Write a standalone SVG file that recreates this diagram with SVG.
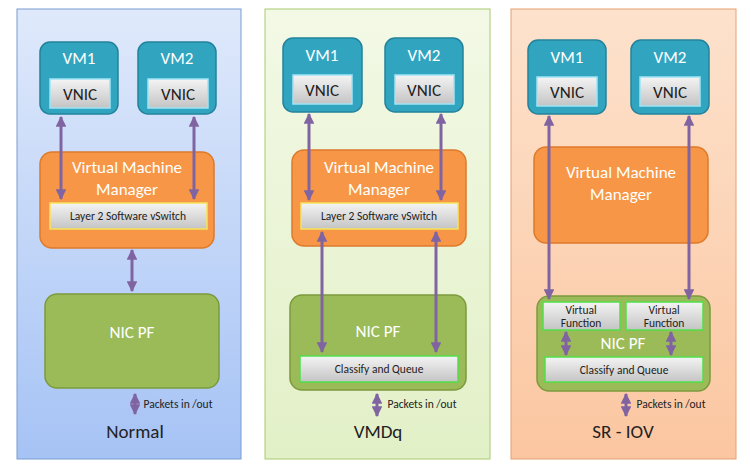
<svg xmlns="http://www.w3.org/2000/svg" width="751" height="473" viewBox="0 0 751 473">
<defs>
<linearGradient id="gb" x1="0" y1="0" x2="0" y2="1"><stop offset="0" stop-color="#dfe9fb"/><stop offset="1" stop-color="#a6c3f5"/></linearGradient>
<linearGradient id="gg" x1="0" y1="0" x2="0" y2="1"><stop offset="0" stop-color="#f3f9e6"/><stop offset="1" stop-color="#e2f0c7"/></linearGradient>
<linearGradient id="go" x1="0" y1="0" x2="0" y2="1"><stop offset="0" stop-color="#fde2cd"/><stop offset="1" stop-color="#fbc6a0"/></linearGradient>
<linearGradient id="gs" x1="0" y1="0" x2="0" y2="1"><stop offset="0" stop-color="#f4f4f4"/><stop offset="1" stop-color="#c4c4c4"/></linearGradient>
<marker id="ah" viewBox="0 0 10 10" refX="9" refY="5" markerWidth="3.6" markerHeight="3.6" orient="auto-start-reverse"><path d="M0,0L10,5L0,10z" fill="#8064a2"/></marker>
</defs>
<style>
.vm{fill:#31a5c0;stroke:#23829b;stroke-width:1.5}
.vnic{fill:url(#gs);stroke:#9ee3f5;stroke-width:1.5}
.vmm{fill:#f79646;stroke:#dd7a2c;stroke-width:1.5}
.vsw{fill:url(#gs);stroke:#f5e35a;stroke-width:1.5}
.nic{fill:#9bbb59;stroke:#7c9a3c;stroke-width:1.5}
.cq{fill:url(#gs);stroke:#52e04a;stroke-width:1.5}
.t{font-family:Carlito,Calibri,"Open Sans",sans-serif;text-anchor:middle}
.w{fill:#fff;font-size:17px}
.k{fill:#222;font-size:17px}
.s{fill:#222;font-size:11.5px}
.c line{stroke:#8064a2;stroke-width:3;marker-start:url(#ah);marker-end:url(#ah)}
</style>
<rect x="17" y="9" width="224" height="450" fill="url(#gb)" stroke="#7b9bd0"/>
<rect x="265" y="9" width="225" height="450" fill="url(#gg)" stroke="#a8cc70"/>
<rect x="511" y="9" width="225" height="450" fill="url(#go)" stroke="#e6a070"/>

<g id="p1-vm1"><rect class="vm" x="40" y="42" width="78" height="72" rx="10"/><text class="t w" x="79" y="64">VM1</text><rect class="vnic" x="50" y="79" width="60" height="29"/><text class="t k" x="80" y="100">VNIC</text></g>
<g id="p1-vm2"><rect class="vm" x="138" y="42" width="78" height="72" rx="10"/><text class="t w" x="177" y="64">VM2</text><rect class="vnic" x="148" y="79" width="60" height="29"/><text class="t k" x="178" y="100">VNIC</text></g>
<g id="p1-vmm"><rect class="vmm" x="40" y="152" width="174" height="96" rx="12"/><text class="t w" x="127" y="173">Virtual Machine</text><text class="t w" x="127" y="195">Manager</text><rect class="vsw" x="50" y="203" width="157" height="26"/><text class="t s" x="128" y="220">Layer 2 Software vSwitch</text></g>
<g id="p1-nic"><rect class="nic" x="45" y="294" width="174" height="94" rx="12"/><text class="t w" x="132" y="338">NIC PF</text></g>

<g id="p2-vm1"><rect class="vm" x="283" y="38" width="79" height="74" rx="10"/><text class="t w" x="322" y="61">VM1</text><rect class="vnic" x="293" y="75" width="59" height="29"/><text class="t k" x="322" y="96">VNIC</text></g>
<g id="p2-vm2"><rect class="vm" x="385" y="38" width="78" height="74" rx="10"/><text class="t w" x="424" y="61">VM2</text><rect class="vnic" x="395" y="75" width="59" height="29"/><text class="t k" x="424" y="96">VNIC</text></g>
<g id="p2-vmm"><rect class="vmm" x="292" y="150" width="174" height="96" rx="12"/><text class="t w" x="379" y="173">Virtual Machine</text><text class="t w" x="379" y="195">Manager</text><rect class="vsw" x="301" y="203" width="157" height="26"/><text class="t s" x="379" y="220">Layer 2 Software vSwitch</text></g>
<g id="p2-nic"><rect class="nic" x="290" y="295" width="176" height="95" rx="12"/><text class="t w" x="378" y="337">NIC PF</text><rect class="cq" x="300" y="356" width="158" height="26"/><text class="t s" x="379" y="373">Classify and Queue</text></g>

<g id="p3-vm1"><rect class="vm" x="528" y="40" width="78" height="74" rx="10"/><text class="t w" x="567" y="63">VM1</text><rect class="vnic" x="537" y="77" width="60" height="29"/><text class="t k" x="567" y="98">VNIC</text></g>
<g id="p3-vm2"><rect class="vm" x="631" y="40" width="78" height="74" rx="10"/><text class="t w" x="670" y="63">VM2</text><rect class="vnic" x="640" y="77" width="60" height="29"/><text class="t k" x="670" y="98">VNIC</text></g>
<g id="p3-vmm"><rect class="vmm" x="534" y="147" width="174" height="96" rx="12"/><text class="t w" x="621" y="178">Virtual Machine</text><text class="t w" x="621" y="200">Manager</text></g>
<g id="p3-nic"><rect class="nic" x="537" y="296" width="173" height="95" rx="12"/><text class="t w" x="623" y="349">NIC PF</text>
<rect class="cq" x="543" y="302" width="77" height="28"/><text class="t s" x="581" y="314">Virtual</text><text class="t s" x="581" y="327">Function</text>
<rect class="cq" x="626" y="302" width="77" height="28"/><text class="t s" x="664" y="314">Virtual</text><text class="t s" x="664" y="327">Function</text>
<rect class="cq" x="545" y="357" width="158" height="25"/><text class="t s" x="624" y="374">Classify and Queue</text></g>

<g id="connectors" class="c">
<line x1="61" y1="117" x2="61" y2="199"/><line x1="194" y1="117" x2="194" y2="199"/><line x1="132" y1="250" x2="132" y2="291"/><line x1="135" y1="394" x2="135" y2="414"/>
<line x1="309" y1="114" x2="309" y2="200"/><line x1="441" y1="114" x2="441" y2="200"/><line x1="322" y1="232" x2="322" y2="352"/><line x1="436" y1="232" x2="436" y2="352"/><line x1="377" y1="394" x2="377" y2="416"/>
<line x1="549" y1="116" x2="549" y2="299"/><line x1="689" y1="116" x2="689" y2="299"/><line x1="566" y1="332" x2="566" y2="355"/><line x1="671" y1="332" x2="671" y2="355"/><line x1="626" y1="394" x2="626" y2="416"/>
</g>
<text class="t s" x="178" y="408">Packets in /out</text>
<text class="t s" x="422" y="408">Packets in /out</text>
<text class="t s" x="671" y="408">Packets in /out</text>
<text class="t k" x="135" y="438" style="font-size:19px">Normal</text>
<text class="t k" x="378" y="438" style="font-size:19px">VMDq</text>
<text class="t k" x="623" y="438" style="font-size:19px">SR - IOV</text>
</svg>
